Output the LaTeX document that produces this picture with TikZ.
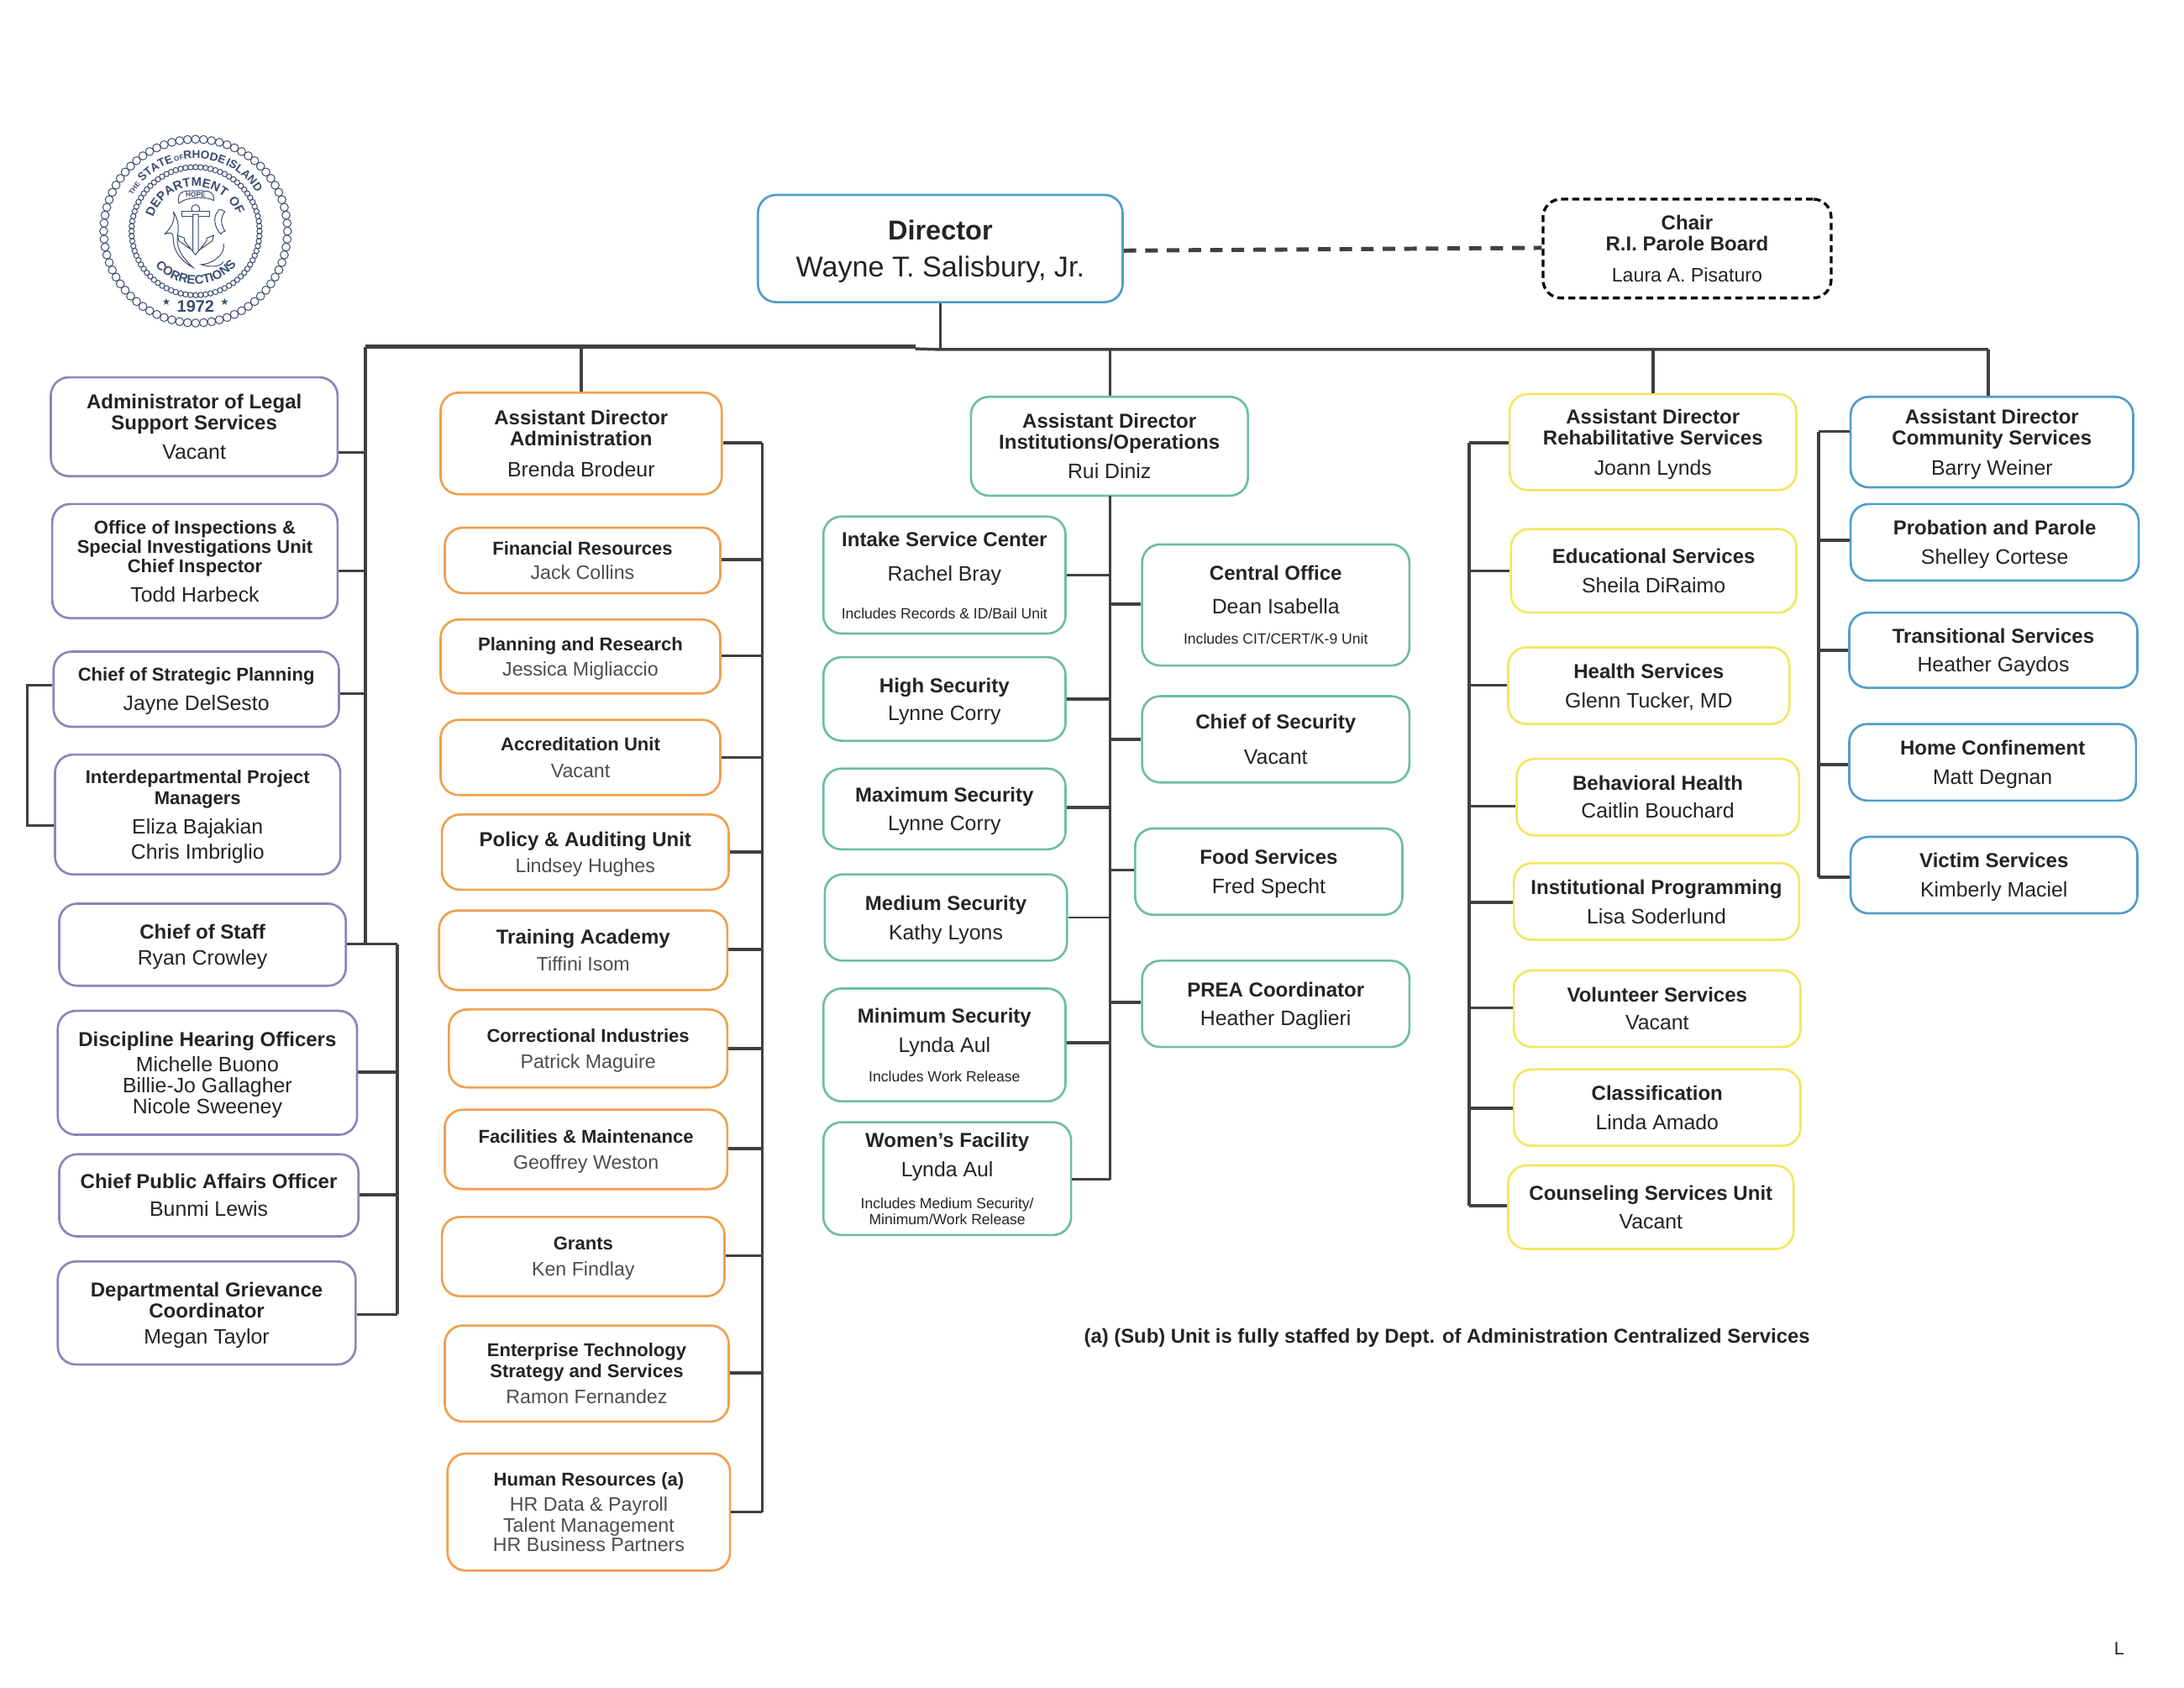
\documentclass[tikz,border=0pt]{standalone}
\usepackage{fontspec}
\setmainfont{Liberation Sans}
\newfontfamily\starfont{DejaVu Sans}
\usetikzlibrary{decorations.text}
\definecolor{ink}{HTML}{222426}
\definecolor{inkgray}{HTML}{4A4D50}
\definecolor{wire}{HTML}{404040}
\definecolor{sealblue}{HTML}{3A4C70}
\definecolor{purple}{HTML}{8A86B8}
\definecolor{orange}{HTML}{EFA04E}
\definecolor{green}{HTML}{6DBE9F}
\definecolor{yellow}{HTML}{F4E660}
\definecolor{blue}{HTML}{4F9DC9}
\newcommand{\hd}{\bfseries\fontsize{14.5}{15}\selectfont}
\newcommand{\hds}{\bfseries\fontsize{13.3}{15}\selectfont}
\newcommand{\nm}{\fontsize{15}{15}\selectfont}
\newcommand{\nmg}{\color{inkgray}\fontsize{14}{15}\selectfont}
\newcommand{\sm}{\fontsize{10.6}{11}\selectfont}
\tikzset{
  box/.style={rounded corners=13, line width=1.6, align=center, inner sep=0, text depth=0pt, text=ink, font=\fontsize{14}{15}\selectfont},
  pbox/.style={box, draw=purple},
  obox/.style={box, draw=orange},
  gbox/.style={box, draw=green},
  ybox/.style={box, draw=yellow},
  bbox/.style={box, draw=blue},
  link/.style={wire, line width=2.1},
  thicklink/.style={wire, line width=2.8},
  seal/.style={sealblue, line width=0.6},
  sealword/.style={decorate, decoration={text along path, text align=center, text={#1}}},
}
\begin{document}
\begin{tikzpicture}[x=1pt,y=-1pt]
    \useasboundingbox (-0.5,0) rectangle (1568.5,1212.3);

    % seal
    \begin{scope}[x=1pt,y=1pt,shift={(140pt,-166pt)}]
      \foreach \a in {0,5,...,355}
        \draw[seal] (\a:66) circle (2.9);
      \foreach \a in {0,4.5,...,356}
        \draw[seal] (\a:46) circle (1.9);
      \path[sealword={|\color{sealblue}\bfseries\fontsize{5}{5}\selectfont|THE}] (165:52) arc (165:125:52);
      \path[sealword={|\color{sealblue}\bfseries\fontsize{8.2}{8.2}\selectfont|STATE}] (150:52) arc (150:95:52);
      \path[sealword={|\color{sealblue}\bfseries\fontsize{5}{5}\selectfont|OF}] (120:52) arc (120:86:52);
      \path[sealword={|\color{sealblue}\bfseries\fontsize{8.2}{8.2}\selectfont|RHODE}] (110:52) arc (110:56:52);
      \path[sealword={|\color{sealblue}\bfseries\fontsize{8.2}{8.2}\selectfont|ISLAND}] (80:52) arc (80:18:52);
      \path[sealword={|\color{sealblue}\bfseries\fontsize{9}{9}\selectfont|DEPARTMENT}] (175:32) arc (175:37:32);
      \path[sealword={|\color{sealblue}\bfseries\fontsize{9}{9}\selectfont|OF}] (60:32) arc (60:4:32);
      \path[sealword={|\color{sealblue}\bfseries\fontsize{9}{9}\selectfont|CORRECTIONS}] (200:38) arc (200:341:38);
      \node[text=sealblue, font=\bfseries\fontsize{12}{12}\selectfont] (sealyear) at (0,-54) {1972};
      \node[text=sealblue, font=\starfont\fontsize{7}{7}\selectfont] (sealstara) at (-21,-51) {★};
      \node[text=sealblue, font=\starfont\fontsize{7}{7}\selectfont] (sealstarb) at (21,-51) {★};
      \node[text=sealblue, font=\bfseries\fontsize{5}{5}\selectfont] (sealhope) at (0,26) {HOPE};
      % banner
      \draw[seal] (-12,20) .. controls (-14,30) and (-6,29) .. (0,29) .. controls (6,29) and (14,30) .. (13,22)
        .. controls (8,25) and (-6,25) .. (-12,20);
      % anchor
      \draw[seal, fill=white] (0,16) circle (3);
      \draw[seal, fill=white] (-10,10.5) rectangle (10,14.5);
      \draw[seal, fill=white] (-2,12) -- (-2,-14) -- (-12,-7) -- (-13,-3) -- (-8,-5) -- (-8,-7) -- (0,-17)
        -- (8,-7) -- (8,-5) -- (13,-3) -- (12,-7) -- (2,-14) -- (2,12) -- cycle;
      % scrolls
      \draw[seal] (-16,14) .. controls (-14,8) and (-18,2) .. (-22,-2) .. controls (-18,-1) and (-16,0) .. (-16,-6)
        .. controls (-16,-14) and (-10,-22) .. (-2,-26) .. controls (-8,-20) and (-14,-14) .. (-13,-4)
        .. controls (-12,2) and (-12,8) .. (-16,14);
      \draw[seal] (16,14) .. controls (12,10) and (14,2) .. (18,-2) .. controls (22,2) and (22,-2) .. (20,2)
        .. controls (18,6) and (18,10) .. (21,14) .. controls (18,16) and (16,16) .. (16,14);
      \draw[seal] (20,-9) .. controls (22,-18) and (10,-24) .. (4,-24) .. controls (10,-26) and (18,-26) .. (20,-22);
    \end{scope}

    % top
    \node[bbox, minimum width=262, minimum height=77] (dir) at (675,178.5)
      {\bfseries\fontsize{19.6}{20}\selectfont Director\\[10pt]\fontsize{20.6}{20}\selectfont Wayne T. Salisbury, Jr.};
    \node[box, draw=black, dash pattern=on 5pt off 3pt, line width=2, minimum width=207, minimum height=71] (chair) at (1211.5,178.5)
      {\hd Chair\\\hd R.I. Parole Board\\[7pt]Laura A. Pisaturo};

    % left column
    \node[pbox, minimum width=206, minimum height=71] (l1) at (139,306.5) {\hd Administrator of Legal\\\hd Support Services\\[6pt]\nm Vacant};
    \node[pbox, minimum width=205, minimum height=82] (l2) at (139.5,403) {\hds Office of Inspections \&\\[-1pt]\hds Special Investigations Unit\\[-1pt]\hds Chief Inspector\\[6pt]\nm Todd Harbeck};
    \node[pbox, minimum width=205, minimum height=54] (l3) at (140.5,495) {\hds Chief of Strategic Planning\\[6pt]\nm Jayne DelSesto};
    \node[pbox, minimum width=205, minimum height=86] (l4) at (141.5,585) {\hds Interdepartmental Project\\\hds Managers\\[6pt]\nm Eliza Bajakian\\[3pt]\nm Chris Imbriglio};
    \node[pbox, minimum width=206, minimum height=59] (l5) at (145,678.5) {\hd Chief of Staff\\[4pt]\nm Ryan Crowley};
    \node[pbox, minimum width=215, minimum height=89] (l6) at (148.5,770.5) {\hd Discipline Hearing Officers\\[3pt]\nm Michelle Buono\\\nm Billie-Jo Gallagher\\\nm Nicole Sweeney};
    \node[pbox, minimum width=215, minimum height=59] (l7) at (149.5,858.5) {\hd Chief Public Affairs Officer\\[5pt]\nm Bunmi Lewis};
    \node[pbox, minimum width=214, minimum height=74] (l8) at (148,943) {\hd Departmental Grievance\\\hd Coordinator\\[4pt]\nm Megan Taylor};

    % administration column
    \node[obox, minimum width=202, minimum height=73] (o1) at (417,318.5) {\hd Assistant Director\\\hd Administration\\[7pt]\nm Brenda Brodeur};
    \node[obox, minimum width=198, minimum height=47] (o2) at (418,402.5) {\hds Financial Resources\\[3pt]\nmg Jack Collins};
    \node[obox, minimum width=201, minimum height=53] (o3) at (416.5,471.5) {\hds Planning and Research\\[3pt]\nmg Jessica Migliaccio};
    \node[obox, minimum width=201, minimum height=54] (o4) at (416.5,544) {\hds Accreditation Unit\\[4pt]\nmg Vacant};
    \node[obox, minimum width=206, minimum height=54] (o5) at (420,612) {\hd Policy \& Auditing Unit\\[4pt]\nmg Lindsey Hughes};
    \node[obox, minimum width=207, minimum height=57] (o6) at (418.5,682.5) {\hd Training Academy\\[4pt]\nmg Tiffini Isom};
    \node[obox, minimum width=200, minimum height=56] (o7) at (422,753) {\hds Correctional Industries\\[4pt]\nmg Patrick Maguire};
    \node[obox, minimum width=203, minimum height=57] (o8) at (420.5,825.5) {\hds Facilities \& Maintenance\\[4pt]\nmg Geoffrey Weston};
    \node[obox, minimum width=203, minimum height=57] (o9) at (418.5,902.5) {\hds Grants\\[4pt]\nmg Ken Findlay};
    \node[obox, minimum width=204, minimum height=69] (o10) at (421,986.5) {\hds Enterprise Technology\\\hds Strategy and Services\\[4pt]\nmg Ramon Fernandez};
    \node[obox, minimum width=203, minimum height=84] (o11) at (422.5,1086) {\hds Human Resources (a)\\[3pt]\nmg HR Data \& Payroll\\\nmg Talent Management\\[-1pt]\nmg HR Business Partners};

    % institutions column
    \node[gbox, minimum width=199, minimum height=71] (g0) at (796.5,320.5) {\hd Assistant Director\\\hd Institutions/Operations\\[6pt]\nm Rui Diniz};
    \node[gbox, minimum width=174, minimum height=84] (g1) at (678,413) {\hd Intake Service Center\\[10pt]\nm Rachel Bray\\[12pt]\sm Includes Records \& ID/Bail Unit};
    \node[gbox, minimum width=174, minimum height=60] (g2) at (678,502) {\hd High Security\\[5pt]\nm Lynne Corry};
    \node[gbox, minimum width=174, minimum height=58] (g3) at (678,581) {\hd Maximum Security\\[5pt]\nm Lynne Corry};
    \node[gbox, minimum width=174, minimum height=62] (g4) at (679,659) {\hd Medium Security\\[6pt]\nm Kathy Lyons};
    \node[gbox, minimum width=174, minimum height=81] (g5) at (678,750.5) {\hd Minimum Security\\[6pt]\nm Lynda Aul\\[6pt]\sm Includes Work Release};
    \node[gbox, minimum width=178, minimum height=81] (g6) at (680,846.5) {\hd Women\char39 s Facility\\[6pt]\nm Lynda Aul\\[8pt]\sm Includes Medium Security/\\[-4pt]\sm Minimum/Work Release};
    \node[gbox, minimum width=192, minimum height=87] (r1) at (916,434.5) {\hd Central Office\\[9pt]\nm Dean Isabella\\[7pt]\sm Includes CIT/CERT/K-9 Unit};
    \node[gbox, minimum width=192, minimum height=62] (r2) at (916,531) {\hd Chief of Security\\[10pt]\nm Vacant};
    \node[gbox, minimum width=192, minimum height=62] (r3) at (911,626) {\hd Food Services\\[6pt]\nm Fred Specht};
    \node[gbox, minimum width=192, minimum height=62] (r4) at (916,721) {\hd PREA Coordinator\\[6pt]\nm Heather Daglieri};

    % rehabilitative column
    \node[ybox, minimum width=206, minimum height=69] (y0) at (1187,317.5) {\hd Assistant Director\\\hd Rehabilitative Services\\[7pt]\nm Joann Lynds};
    \node[ybox, minimum width=205, minimum height=60] (y1) at (1187.5,410) {\hd Educational Services\\[6pt]\nm Sheila DiRaimo};
    \node[ybox, minimum width=202, minimum height=55] (y2) at (1184,492.5) {\hd Health Services\\[6pt]\nm Glenn Tucker, MD};
    \node[ybox, minimum width=203, minimum height=55] (y3) at (1190.5,572.5) {\hd Behavioral Health\\[5pt]\nm Caitlin Bouchard};
    \node[ybox, minimum width=205, minimum height=55] (y4) at (1189.5,647.5) {\hd Institutional Programming\\[6pt]\nm Lisa Soderlund};
    \node[ybox, minimum width=206, minimum height=55] (y5) at (1190,724.5) {\hd Volunteer Services\\[5pt]\nm Vacant};
    \node[ybox, minimum width=206, minimum height=55] (y6) at (1190,795.5) {\hd Classification\\[6pt]\nm Linda Amado};
    \node[ybox, minimum width=205, minimum height=60] (y7) at (1185.5,867) {\hd Counseling Services Unit\\[5pt]\nm Vacant};

    % community column
    \node[bbox, minimum width=203, minimum height=65] (b0) at (1430.5,317.5) {\hd Assistant Director\\\hd Community Services\\[7pt]\nm Barry Weiner};
    \node[bbox, minimum width=207, minimum height=55] (b1) at (1432.5,389.5) {\hd Probation and Parole\\[6pt]\nm Shelley Cortese};
    \node[bbox, minimum width=207, minimum height=54] (b2) at (1431.5,467) {\hd Transitional Services\\[6pt]\nm Heather Gaydos};
    \node[bbox, minimum width=206, minimum height=55] (b3) at (1431,547.5) {\hd Home Confinement\\[6pt]\nm Matt Degnan};
    \node[bbox, minimum width=206, minimum height=55] (b4) at (1432,628.5) {\hd Victim Services\\[6pt]\nm Kimberly Maciel};

    \node[text=ink, font=\bfseries\fontsize{14.4}{15}\selectfont] (note) at (1039,961) {(a) (Sub) Unit is fully staffed by Dept. of Administration Centralized Services};
    \node[text=ink, font=\fontsize{13}{13}\selectfont] (pagemark) at (1522,1184) {L};

    % bus points
    \coordinate (busl) at (262,249);
    \coordinate (busm) at (675,251);
    \coordinate (busr) at (1428,251);
    \coordinate (stafb) at (285,678);
    \coordinate (admb) at (547,318);
    \coordinate (insb) at (797,356);
    \coordinate (rehb) at (1055,318);
    \coordinate (comb) at (1306,310);

    \draw[wire, line width=3, dash pattern=on 9pt off 6.5pt] (dir.east |- 0,180) -- (chair.west |- 0,178);
    \draw[link] (dir.south) -- (busm);
    \draw[link] (657,250.5) -- (busm) -- (busr);
    \draw[thicklink] (657,249) -- (busl);
    \draw[link] (busl) -- (busl |- 0,678);
    \draw[thicklink] (stafb) -- (stafb |- 0,944);
    \draw[link] (o1.north) -- (o1.north |- busl);
    \draw[link] (insb |- busm) -- (insb |- g0.north);
    \draw[link] (insb) -- (insb |- 0,847);
    \draw[link] (admb) -- (admb |- 0,1086);
    \draw[link] (rehb) -- (rehb |- 0,866);
    \draw[link] (comb) -- (comb |- 0,630);
    \draw[link] (y0.north) -- (y0.north |- busm);
    \draw[link] (busr) -- (busr |- b0.north);
    \draw[link] (l3.west |- 0,492) -- (19,492) -- (19,593) -- (l4.west |- 0,593);

    \foreach \n/\y in {l1/325,l2/410,l3/498}
    \draw[link] (\n.east |- 0,\y) -- (busl |- 0,\y);
    \foreach \n/\y in {l5/678,l6/770,l7/858,l8/944}
    \draw[link] (\n.east |- 0,\y) -- (stafb |- 0,\y);
    \foreach \n/\y in {o1/318,o2/402,o3/471,o4/544,o5/612,o6/682,o7/753,o8/825,o9/902,o10/986,o11/1086}
    \draw[link] (\n.east |- 0,\y) -- (admb |- 0,\y);
    \foreach \n/\y in {g1/413,g2/502,g3/580,g5/749,g6/847}
    \draw[link] (\n.east |- 0,\y) -- (insb |- 0,\y);
    \draw[wire, line width=1] (g4.east |- 0,659) -- (insb |- 0,659);
    \foreach \n/\y in {r1/434,r2/531,r3/625,r4/720}
    \draw[link] (\n.west |- 0,\y) -- (insb |- 0,\y);
    \foreach \n/\y in {y0/318,y1/410,y2/492,y3/579,y4/648,y5/724,y6/796,y7/866}
    \draw[link] (\n.west |- 0,\y) -- (rehb |- 0,\y);
    \foreach \n/\y in {b0/310,b1/388,b2/467,b3/549,b4/630}
    \draw[link] (\n.west |- 0,\y) -- (comb |- 0,\y);
  \end{tikzpicture}
\end{document}
